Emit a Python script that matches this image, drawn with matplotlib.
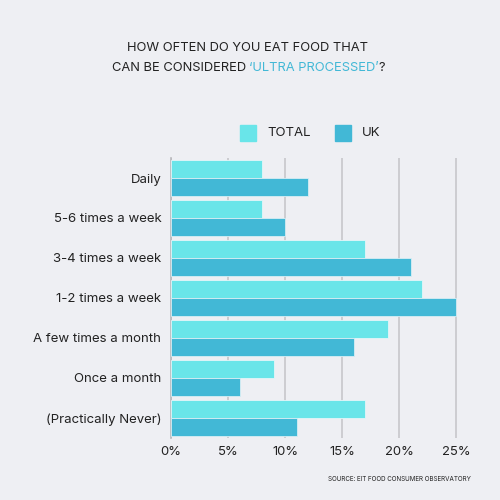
import matplotlib
matplotlib.use("Agg")
import matplotlib.pyplot as plt
from matplotlib.patches import Rectangle
import numpy as np

categories = ["Daily", "5-6 times a week", "3-4 times a week", "1-2 times a week",
              "A few times a month", "Once a month", "(Practically Never)"]
total = [8, 8, 17, 22, 19, 9, 17]
uk = [12, 10, 21, 25, 16, 6, 11]
xticks = [0, 5, 10, 15, 20, 25]
xticklabels = ["0%", "5%", "10%", "15%", "20%", "25%"]
series_names = ["TOTAL", "UK"]

BG = "#EEEFF3"
C_TOTAL = "#69E5E9"
C_UK = "#42B8D6"
TXT = "#222222"

plt.rcParams['font.family'] = ['Inter', 'DejaVu Sans']

fig = plt.figure(figsize=(5, 5), dpi=100, facecolor=BG)
ax = fig.add_axes([0.342, 0.124, 0.572, 0.56])
ax.set_facecolor(BG)

y = np.arange(len(categories))
h = 0.44
ax.barh(y - 0.225, total, height=h, color=C_TOTAL, edgecolor="#E4F6F8", linewidth=0.6, zorder=3)
ax.barh(y + 0.225, uk, height=h, color=C_UK, edgecolor="#D8EEF4", linewidth=0.6, zorder=3)

ax.set_ylim(6.5, -0.5)
ax.set_xlim(0, 25.05)
ax.set_yticks(y)
ax.set_yticklabels(categories, fontsize=9.5, color=TXT)
ax.set_xticks(xticks)
ax.set_xticklabels(xticklabels, fontsize=9.4, color=TXT)
ax.tick_params(axis='both', length=0)
ax.tick_params(axis='y', pad=7)
ax.tick_params(axis='x', pad=6)
ax.grid(axis='x', color="#C7C7CB", linewidth=1.2, zorder=0)
for s in ["top", "right", "bottom"]:
    ax.spines[s].set_visible(False)
ax.spines["left"].set_color("#B8B8BC")
ax.spines["left"].set_linewidth(1.2)

# legend (manual)
for name, col, px in zip(series_names, [C_TOTAL, C_UK], [240, 335]):
    fig.add_artist(Rectangle((px / 500, 1 - 141 / 500), 16 / 500, 16 / 500,
                             transform=fig.transFigure, color=col))
    fig.text((px + 27) / 500, 1 - 133 / 500, name, ha="left", va="center",
             fontsize=9.5, color=TXT)

# title
fig.text(0.495, 0.904, "HOW OFTEN DO YOU EAT FOOD THAT", ha="center", va="center",
         fontsize=9.3, color=TXT)
parts = [("CAN BE CONSIDERED ", TXT), ("\u2018ULTRA PROCESSED\u2019", C_UK), ("?", TXT)]
fig.canvas.draw()
r = fig.canvas.get_renderer()
tmp = [fig.text(0, 0, p, fontsize=9.3) for p, _ in parts]
widths = [t.get_window_extent(r).width for t in tmp]
for t in tmp:
    t.remove()
tot_w = sum(widths)
x0 = 0.497 * 500 - tot_w / 2
for (p, c), w in zip(parts, widths):
    fig.text(x0 / 500, 0.864, p, ha="left", va="center", fontsize=9.3, color=c)
    x0 += w

fig.text(0.942, 0.042, "SOURCE: EIT FOOD CONSUMER OBSERVATORY", ha="right", va="center",
         fontsize=4.5, color=TXT)

fig.savefig("out.png", dpi=100, facecolor=BG)
